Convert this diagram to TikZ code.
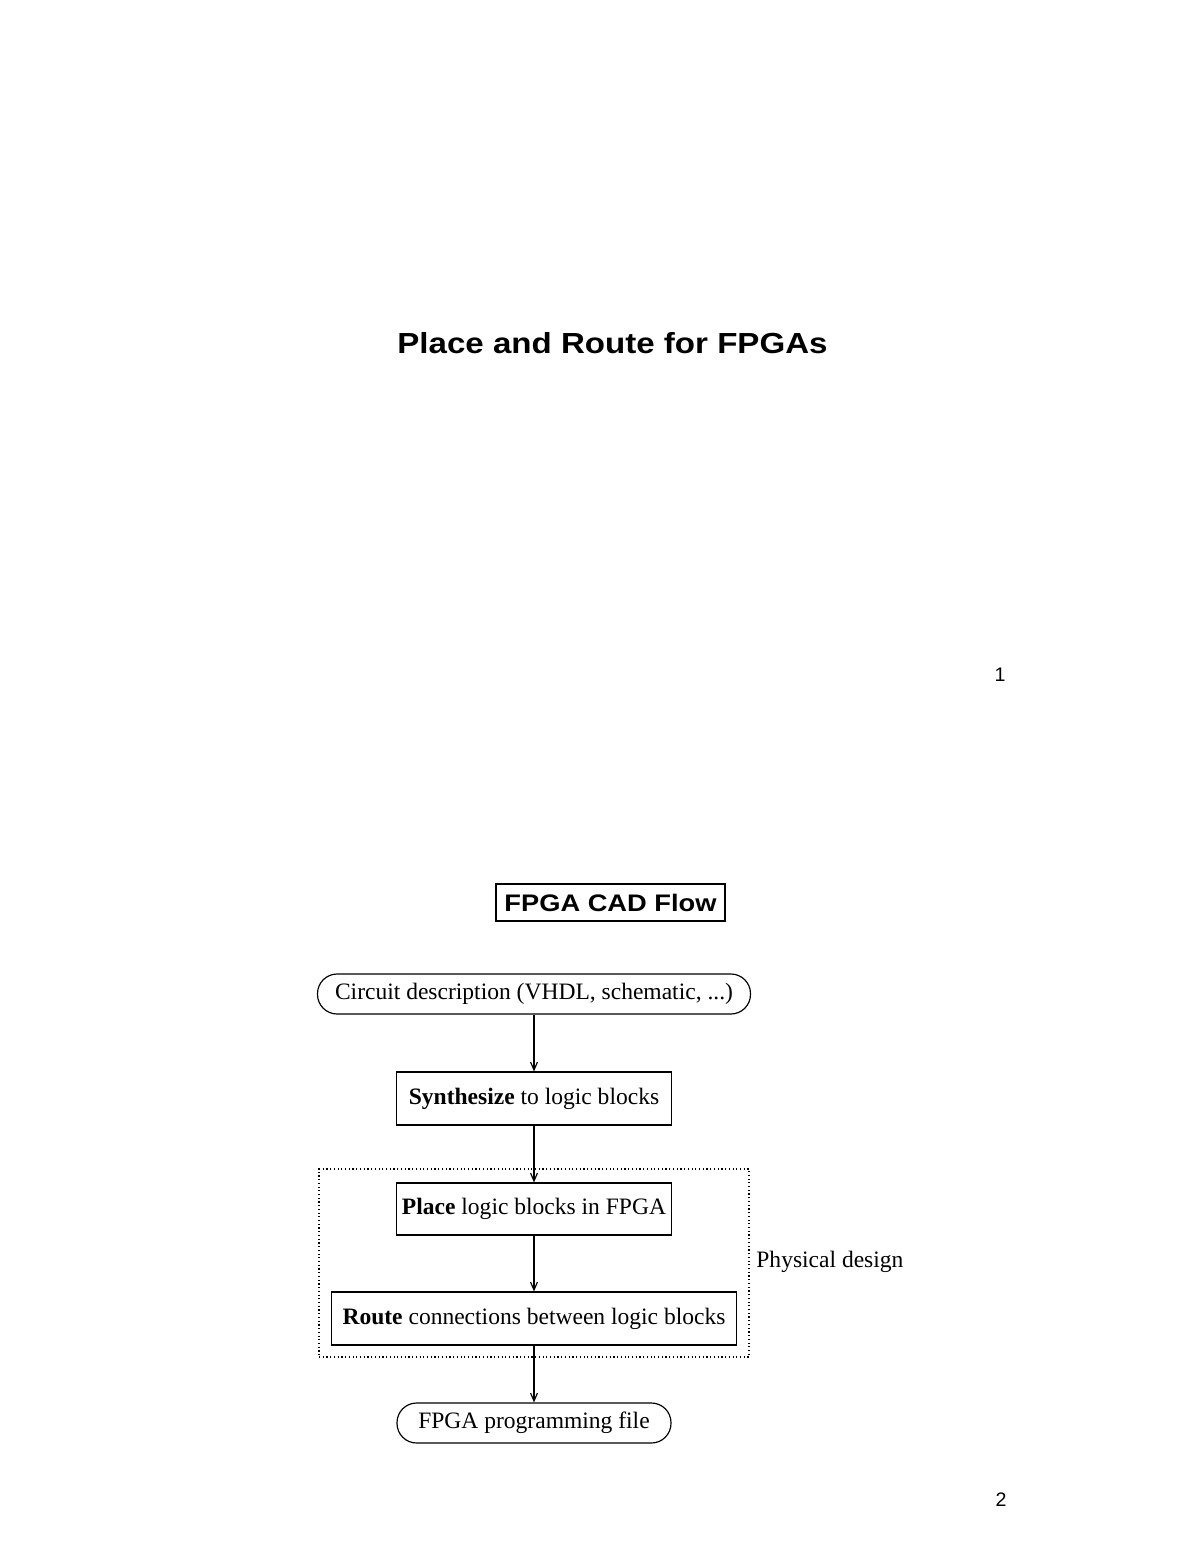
\documentclass[tikz,border=0pt]{standalone}
\usepackage{fontspec}
\setmainfont{Liberation Serif}
\newfontfamily\hv[FakeStretch=1.14]{Liberation Sans}
\newfontfamily\hvplain{Liberation Sans}
\usetikzlibrary{arrows.meta}
\tikzset{
  px/.style={x=0.51pt,y=-0.51pt},
  flowbox/.style={draw,line width=0.6pt,inner sep=0pt,font=\fontsize{12}{14}\selectfont},
  roundbox/.style={flowbox,rounded corners=10pt},
  dotbox/.style={draw,line width=0.6pt,dash pattern=on 0.6pt off 1.3pt,inner sep=0pt},
  arr/.style={line width=0.6pt,-{Straight Barb[length=4pt,width=3.5pt]}},
  pagenum/.style={font=\hvplain\fontsize{10}{12}\selectfont,inner sep=0pt}
}
\begin{document}
\begin{tikzpicture}[px]
\useasboundingbox[fill=white] (0,0) rectangle (1200,1553);
% page 1
\node[font=\hv\bfseries\fontsize{14.8}{17}\selectfont,anchor=base,inner sep=0pt] (title) at (612.5,353) {Place and Route for FPGAs};
\node[pagenum] (p1) at (1000,675) {1};
% page 2
\node[draw,line width=1pt,inner sep=0pt,minimum width=229*0.51pt,minimum height=37*0.51pt,
      font=\hv\bfseries\fontsize{12.2}{14}\selectfont] (cad) at (610.5,902.5) {FPGA CAD Flow};
\node[dotbox,minimum width=430*0.51pt,minimum height=188*0.51pt] (phys) at (534,1263) {};
\node[roundbox,minimum width=433*0.51pt,minimum height=40*0.51pt] (circ) at (534,994) {Circuit description (VHDL, schematic, ...)};
\node[flowbox,minimum width=275*0.51pt,minimum height=53*0.51pt] (synth) at (534,1098.5) {\textbf{Synthesize} to logic blocks};
\node[flowbox,minimum width=275*0.51pt,minimum height=52*0.51pt] (place) at (534,1209) {\textbf{Place} logic blocks in FPGA};
\node[flowbox,minimum width=405*0.51pt,minimum height=53*0.51pt] (route) at (534,1318.5) {\textbf{Route} connections between logic blocks};
\node[roundbox,minimum width=274*0.51pt,minimum height=40*0.51pt] (prog) at (534,1423) {FPGA programming file};
\node[anchor=base west,inner sep=0pt,font=\fontsize{12}{14}\selectfont] (physlbl) at (756,1267) {Physical design};
\draw[arr] (circ) -- (synth);
\draw[arr] (synth) -- (place);
\draw[arr] (place) -- (route);
\draw[arr] (route) -- (prog);
\node[pagenum] (p2) at (1001,1500) {2};
\end{tikzpicture}
\end{document}
